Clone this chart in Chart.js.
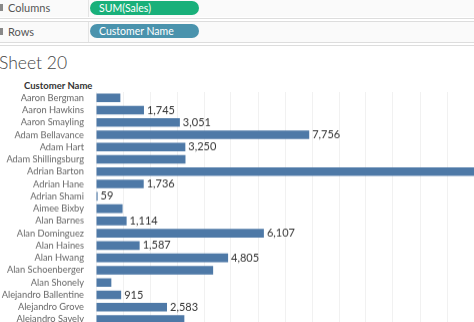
<!DOCTYPE html>
<html>
<head>
<meta charset="utf-8">
<script src="https://cdn.jsdelivr.net/npm/chart.js@4"></script>
<style>
  html, body { margin: 0; padding: 0; width: 474px; height: 322px; overflow: hidden; background: #fff; font-family: Lato, sans-serif; }
  .shelf { position: absolute; left: 0; width: 474px; height: 17px; background: #fafafa; }
  .shelf .name { position: absolute; left: 8px; top: 1px; font-size: 11px; color: #555; }
  .shelf .icon { position: absolute; left: 0; top: 4px; width: 3px; height: 7px; background: #888; }
  .shelf .div { position: absolute; left: 88px; top: 0; width: 1px; height: 17px; background: #e4e4e4; }
  .pill { position: absolute; left: 90px; width: 109px; height: 14px; border-radius: 7px; color: #fff; font-size: 10.5px; line-height: 14px; padding-left: 9px; box-sizing: border-box; }
  .line { position: absolute; left: 0; width: 474px; height: 1px; background: #ddd; }
  #title { position: absolute; left: -1px; top: 52px; font-size: 17.5px; color: #444; font-weight: 300; }
  #head { position: absolute; left: 24px; top: 80px; font-size: 9.5px; color: #333; font-weight: bold; }
  #wrap { position: absolute; left: 0; top: 92px; width: 474px; height: 234px; }
</style>
</head>
<body>
<div class="shelf" style="top:0"><div class="icon"></div><div class="name">Columns</div><div class="div"></div>
  <div class="pill" style="top:1px;background:#19b07a">SUM(Sales)</div></div>
<div class="line" style="top:18px"></div>
<div class="line" style="top:21px"></div>
<div class="shelf" style="top:22px;height:20px"><div class="icon" style="top:6px"></div><div class="name" style="top:3px">Rows</div><div class="div" style="height:20px"></div>
  <div class="pill" style="top:2px;background:#4a93ad">Customer Name</div></div>
<div class="line" style="top:42px"></div>
<div class="line" style="top:45px"></div>
<div id="title">Sheet 20</div>
<div id="head">Customer Name</div>
<div id="wrap"><canvas id="myChart"></canvas></div>
<script>
var customers = ['Aaron Bergman', 'Aaron Hawkins', 'Aaron Smayling', 'Adam Bellavance', 'Adam Hart',
    'Adam Shillingsburg', 'Adrian Barton', 'Adrian Hane', 'Adrian Shami', 'Aimee Bixby', 'Alan Barnes',
    'Alan Dominguez', 'Alan Haines', 'Alan Hwang', 'Alan Schoenberger', 'Alan Shonely',
    'Alejandro Ballentine', 'Alejandro Grove', 'Alejandro Savely'];
var sales = [886, 1745, 3051, 7756, 3250, 3255, 14474, 1736, 59, 967, 1114, 6107, 1587, 4805, 4261, 558, 915, 2583, 3214];
// Tableau hides some labels, only these are shown
var showLabel = [false, true, true, true, true, false, false, true, true, false, true, true, true, true, false, false, true, true, false];

var barLabels = {
    id: 'barLabels',
    afterDatasetsDraw: function(chart) {
        var ctx = chart.ctx;
        var meta = chart.getDatasetMeta(0);
        ctx.save();
        ctx.font = '11px Lato, sans-serif';
        ctx.fillStyle = '#333';
        ctx.textBaseline = 'middle';
        meta.data.forEach(function(bar, i) {
            if (!showLabel[i]) return;
            ctx.fillText(sales[i].toLocaleString('en-US'), bar.x + 3, bar.y);
        });
        ctx.restore();
    }
};

var ctx = document.getElementById('myChart').getContext('2d');
var chart = new Chart(ctx, {
    type: 'bar',
    data: {
        labels: customers,
        datasets: [{
            data: sales,
            backgroundColor: '#4e79a7',
            categoryPercentage: 1,
            barPercentage: 0.7
        }]
    },
    options: {
        indexAxis: 'y',
        responsive: true,
        maintainAspectRatio: false,
        animation: false,
        layout: { padding: 0 },
        plugins: { legend: { display: false }, tooltip: { enabled: false } },
        scales: {
            x: {
                min: 0,
                max: 13750,
                position: 'top',
                ticks: { display: false, stepSize: 1000 },
                grid: { color: '#f1f1f1', drawTicks: false },
                border: { display: false },
                afterFit: function(scale) { scale.height = 0; }
            },
            y: {
                ticks: { color: '#666', font: { family: 'Lato', size: 9.3 }, padding: 4, autoSkip: false },
                grid: { display: false },
                border: { display: false },
                afterFit: function(scale) { scale.width = 96; }
            }
        }
    },
    plugins: [barLabels]
});

// the y labels add some padding above/below the plot, shift the canvas so rows land where Tableau puts them
var wrap = document.getElementById('wrap');
var padTop = chart.chartArea.top;
var padBottom = chart.height - chart.chartArea.bottom;
wrap.style.top = (92 - padTop) + 'px';
wrap.style.height = (233 + padTop + padBottom) + 'px';
chart.resize();
</script>
</body>
</html>
